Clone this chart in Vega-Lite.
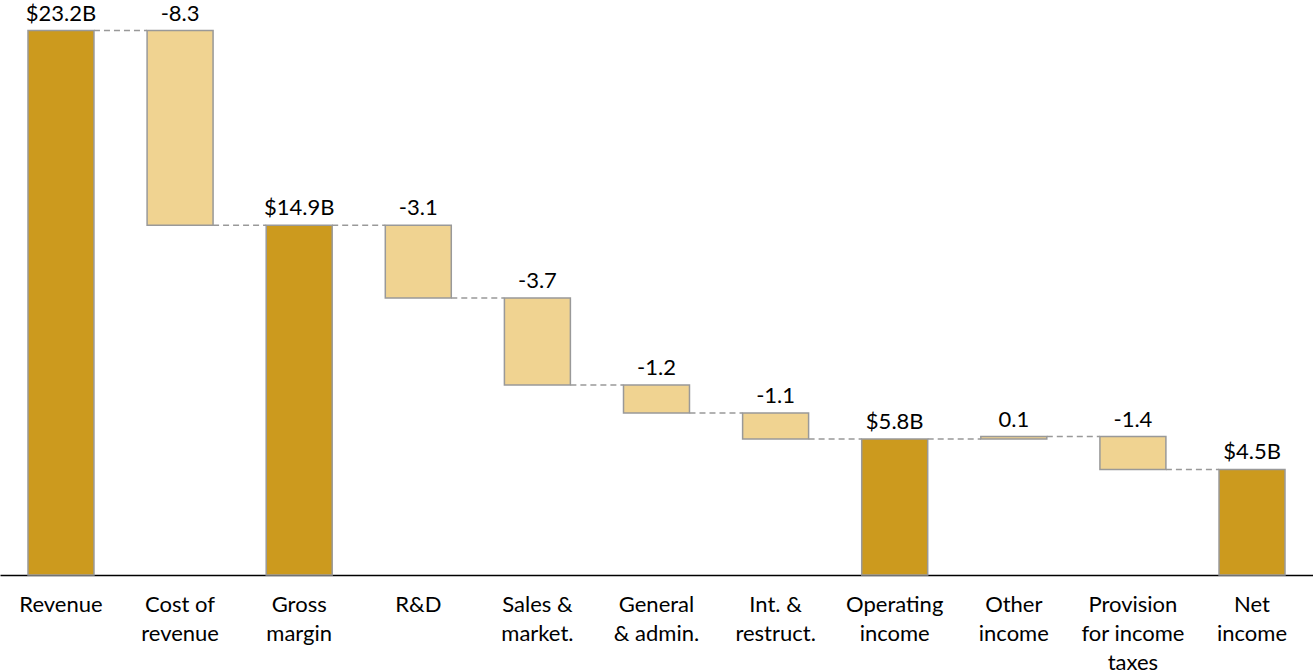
{
  "$schema": "https://vega.github.io/schema/vega-lite/v6.json",
  "width": 1313,
  "height": 575,
  "padding": 0,
  "background": "white",
  "data": {
    "values": [
      {"cat": "Revenue", "next": "Cost of|revenue", "start": 0, "end": 23.2, "top": 23.2, "label": "$23.2B", "kind": "total"},
      {"cat": "Cost of|revenue", "next": "Gross|margin", "start": 23.2, "end": 14.9, "top": 23.2, "label": "-8.3", "kind": "delta"},
      {"cat": "Gross|margin", "next": "R&D", "start": 0, "end": 14.9, "top": 14.9, "label": "$14.9B", "kind": "total"},
      {"cat": "R&D", "next": "Sales &|market.", "start": 14.9, "end": 11.8, "top": 14.9, "label": "-3.1", "kind": "delta"},
      {"cat": "Sales &|market.", "next": "General|& admin.", "start": 11.8, "end": 8.1, "top": 11.8, "label": "-3.7", "kind": "delta"},
      {"cat": "General|& admin.", "next": "Int. &|restruct.", "start": 8.1, "end": 6.9, "top": 8.1, "label": "-1.2", "kind": "delta"},
      {"cat": "Int. &|restruct.", "next": "Operating|income", "start": 6.9, "end": 5.8, "top": 6.9, "label": "-1.1", "kind": "delta"},
      {"cat": "Operating|income", "next": "Other|income", "start": 0, "end": 5.8, "top": 5.8, "label": "$5.8B", "kind": "total"},
      {"cat": "Other|income", "next": "Provision|for income|taxes", "start": 5.8, "end": 5.9, "top": 5.9, "label": "0.1", "kind": "delta"},
      {"cat": "Provision|for income|taxes", "next": "Net|income", "start": 5.9, "end": 4.5, "top": 5.9, "label": "-1.4", "kind": "delta"},
      {"cat": "Net|income", "next": "", "start": 0, "end": 4.5, "top": 4.5, "label": "$4.5B", "kind": "total"}
    ]
  },
  "layer": [
    {
      "transform": [{"filter": "datum.next != ''"}],
      "mark": {"type": "rule", "color": "#999999", "strokeWidth": 1.5, "strokeDash": [6, 4]},
      "encoding": {
        "x": {"field": "cat", "type": "nominal", "bandPosition": 1},
        "x2": {"field": "next", "bandPosition": 0},
        "y": {"field": "end", "type": "quantitative"}
      }
    },
    {
      "mark": {"type": "bar", "stroke": "#999999", "strokeWidth": 1.5},
      "encoding": {
        "x": {
          "field": "cat",
          "type": "nominal",
          "scale": {
            "domain": ["Revenue", "Cost of|revenue", "Gross|margin", "R&D", "Sales &|market.", "General|& admin.", "Int. &|restruct.", "Operating|income", "Other|income", "Provision|for income|taxes", "Net|income"]
          }
        },
        "y": {"field": "start", "type": "quantitative", "scale": {"domain": [0, 24.5], "nice": false}},
        "y2": {"field": "end"},
        "color": {
          "field": "kind",
          "type": "nominal",
          "scale": {"domain": ["total", "delta"], "range": ["#CC9A1E", "#F0D391"]},
          "legend": null
        }
      }
    },
    {
      "mark": {"type": "text", "baseline": "bottom", "dy": -5, "fontSize": 22, "color": "black"},
      "encoding": {
        "x": {"field": "cat", "type": "nominal"},
        "y": {"field": "top", "type": "quantitative"},
        "text": {"field": "label"}
      }
    }
  ],
  "config": {
    "view": {"stroke": null},
    "font": "Lato",
    "text": {"font": "Lato"},
    "scale": {"bandPaddingInner": 0.446, "bandPaddingOuter": 0.235},
    "axisX": {
      "title": null,
      "labelAngle": 0,
      "labelExpr": "split(datum.label, '|')",
      "labelFont": "Lato",
      "labelFontSize": 22,
      "labelColor": "black",
      "labelLineHeight": 29,
      "labelPadding": 19,
      "labelBaseline": "top",
      "ticks": false,
      "domainColor": "black",
      "domainWidth": 1.5
    },
    "axisY": {"disable": true}
  }
}
